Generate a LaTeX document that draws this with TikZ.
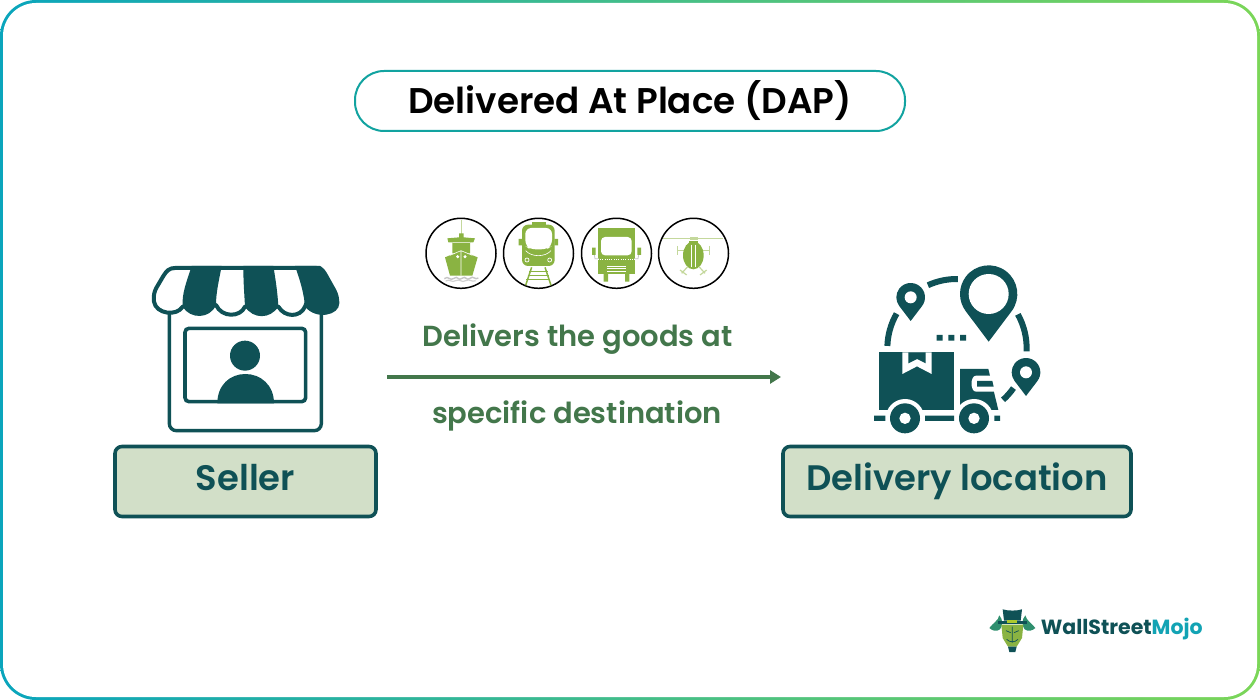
\documentclass[tikz,border=0pt]{standalone}
\usepackage{fontspec}
\setmainfont{Poppins}[BoldFont={Poppins SemiBold}]
\newfontfamily\logofont{Poppins}[UprightFont={* Bold}]
\usetikzlibrary{arrows.meta}
\definecolor{dk}{HTML}{0F5156}
\definecolor{gr}{HTML}{43774B}
\definecolor{bx}{HTML}{D2DFC8}
\definecolor{ic}{HTML}{8AB342}
\definecolor{icl}{HTML}{C4D89C}
\definecolor{tl}{HTML}{12A3A0}
\definecolor{tb}{HTML}{12A3B4}
\definecolor{hn}{HTML}{2F8F6E}
\definecolor{edgeL}{HTML}{0AA5BC}
\definecolor{edgeM}{HTML}{3DB98C}
\definecolor{edgeR}{HTML}{7BD658}
\tikzset{
 lbl/.style={draw=dk,line width=3.6pt,fill=bx,rounded corners=7pt,minimum height=70pt,inner sep=0pt,text=dk,text height=24pt,text depth=7pt,font=\bfseries\fontsize{35.4}{40}\selectfont},
 pill/.style={draw=tl,line width=2pt,fill=white,rounded corners=29pt,minimum width=550pt,minimum height=60pt,inner sep=0pt,font=\bfseries\fontsize{35.7}{40}\selectfont},
 caption/.style={text=gr,font=\bfseries\fontsize{29}{33}\selectfont,inner sep=0pt},
 ring/.style={draw=black,line width=1.5pt,fill=white},
}
\newcommand{\pinmark}[5]{% cx cy r d inner (zoom units)
 \pgfmathsetmacro{\pa}{acos(#3/#4)}
 \pgfmathsetmacro{\ps}{90-\pa}
 \pgfmathsetmacro{\pe}{\pa-270}
 \fill[dk] (#1,#2+#4) -- ([shift={(#1,#2)}]\ps:#3) arc[start angle=\ps,end angle=\pe,radius=#3] -- cycle;
 \fill[white] (#1,#2) circle[radius=#5];
}
\begin{document}
\begin{tikzpicture}[x=1pt,y=-1pt]
\useasboundingbox (0,0) rectangle (1260,700);
% frame
\shade[left color=edgeL,middle color=edgeM,right color=edgeR,rounded corners=36pt] (0,0) rectangle (1260,700);
\fill[white,rounded corners=33pt] (3,3) rectangle (1257,697);
% title
\node[pill] (title) at (630,101) {Delivered At Place (DAP)};
% labels
\node[lbl,minimum width=261pt] (seller) at (245.5,481.5) {Seller};
\node[lbl,minimum width=348pt] (place) at (957,481.5) {Delivery location};
% arrow and captions
\coordinate (from) at (387,377);
\coordinate (to) at (781,377);
\draw[gr,line width=3.4pt,-{Triangle[length=11pt,width=13pt]}] (from) -- (to);
\node[caption] (cap1) at (577.5,339) {Delivers the goods at};
\node[caption] (cap2) at (577,416) {specific destination};
% shop icon
\begin{scope}[xshift=130pt,yshift=-250pt,x=.33333pt,y=-.33333pt]
 \draw[dk,line width=3.4pt,rounded corners=7pt] (118,190) -- (118,542) -- (574,542) -- (574,190);
 \draw[dk,line width=3.6pt,rounded corners=4pt] (165,235) rectangle (527,455);
 \fill[dk] (345,317) circle[radius=45];
 \fill[dk] (262,460) .. controls (262,405) and (300,372) .. (346,372) .. controls (392,372) and (432,405) .. (432,460) -- cycle;
 % awning
 \draw[dk,line width=4pt,fill=white,line join=round] (185,54) -- (135,54) .. controls (118,54) and (110,62) .. (100,78) -- (80,112) .. controls (72,125) and (70,140) .. (72,155) .. controls (78,192) and (140,200) .. (158,170) -- (258,165) .. controls (275,203) and (330,203) .. (345,170) -- (445,170) .. controls (465,203) and (510,203) .. (525,170) -- (570,54) -- cycle;
 \fill[dk] (185,48) -- (275,48) .. controls (265,100) and (258,130) .. (258,165) .. controls (240,208) and (180,208) .. (158,170) .. controls (155,130) and (170,95) .. (185,48) -- cycle;
 \fill[dk] (340,48) -- (430,48) .. controls (437,90) and (443,130) .. (445,170) .. controls (420,208) and (370,208) .. (345,170) .. controls (343,130) and (340,100) .. (340,48) -- cycle;
 \fill[dk] (495,48) -- (560,48) .. controls (575,48) and (582,55) .. (590,68) -- (618,118) .. controls (626,132) and (628,148) .. (628,160) .. controls (628,195) and (560,212) .. (525,170) .. controls (522,130) and (510,90) .. (495,48) -- cycle;
\end{scope}
% transport icons
\draw[ring] (461,253.3) circle[radius=35];
\draw[ring] (538.5,253.3) circle[radius=35];
\draw[ring] (616.5,253.3) circle[radius=35];
\draw[ring] (693.5,253.3) circle[radius=35];
\begin{scope}[xshift=415pt,yshift=-210pt,x=.33333pt,y=-.33333pt]
 % ship
 \draw[icl,line width=.8pt] (138,30) -- (138,72);
 \fill[ic] (132,70) -- (146,70) -- (146,82) -- (180,85) -- (175,97) -- (165,97) -- (165,130) -- (112,130) -- (112,97) -- (100,97) -- (97,85) -- (132,82) -- cycle;
 \fill[ic] (90,142) -- (138,122) -- (188,142) -- (172,197) -- (105,197) -- cycle;
 \draw[white,line width=.6pt] (105,136) -- (138,122) -- (172,136) (138,122) -- (138,197) (112,97) -- (165,97);
 \fill[white] (128,140) circle[radius=5] (150,140) circle[radius=5];
 \draw[gray!45,line width=1.4pt] (88,206) .. controls (100,195) and (105,215) .. (117,205) .. controls (128,195) and (130,215) .. (141,205) .. controls (152,195) and (155,215) .. (165,205) .. controls (175,195) and (180,212) .. (190,204);
 \draw[gray!35,line width=1.2pt] (92,213) .. controls (105,205) and (110,220) .. (122,212) .. controls (135,205) and (140,220) .. (152,212) .. controls (165,205) and (170,218) .. (182,212);
 % train
 \fill[ic] (350,36) rectangle (392,48);
 \fill[ic,rounded corners=6pt] (321,44) rectangle (419,168);
 \fill[ic] (311,87) rectangle (322,106) (418,87) rectangle (429,106);
 \fill[white,rounded corners=6pt] (331,54) -- (411,54) -- (411,108) -- (395,118) -- (345,118) -- (331,108) -- cycle;
 \draw[white,line width=.6pt] (332,122) .. controls (350,142) and (390,142) .. (408,122);
 \draw[white,line width=.7pt] (336,150) circle[radius=6] (404,150) circle[radius=6];
 \draw[ic,line width=1.5pt] (350,172) -- (332,226) (390,172) -- (408,226);
 \draw[ic,line width=1.1pt] (342,184) -- (398,184) (338,196) -- (402,196) (334,208) -- (406,208);
 % truck
 \fill[ic] (548,54) rectangle (660,192);
 \fill[ic] (566,190) rectangle (579,215) (630,190) rectangle (643,215);
 \fill[white,rounded corners=4pt] (558,81) rectangle (650,136);
 \draw[white,line width=.3pt,dotted] (548,148) -- (660,148);
 \draw[white,line width=.6pt] (576,169) -- (632,169) (576,176) -- (632,176) (576,183) -- (632,183);
 \fill[ic] (531,113) rectangle (542,135) (667,113) rectangle (678,135);
 \draw[gray!45,line width=.8pt] (538,135) -- (540,146) -- (552,146) (671,135) -- (669,146) -- (657,146);
 % helicopter
 \draw[icl,line width=.9pt] (745,85) -- (925,85);
 \fill[icl] (825,81) rectangle (848,89);
 \draw[icl,line width=.9pt] (787,122) -- (883,122) (787,108) -- (787,136) (883,108) -- (883,136);
 \fill[ic] (835,136) ellipse[x radius=31,y radius=42];
 \fill[ic] (822,92) rectangle (848,104);
 \draw[white,line width=.5pt] (830,104) -- (830,170) (840,104) -- (840,170);
 \draw[icl,line width=1.2pt] (818,170) -- (800,190) (852,170) -- (870,190) (795,180) -- (815,195) (875,180) -- (855,195);
\end{scope}
% delivery icon
\begin{scope}[xshift=860pt,yshift=-255pt,x=.33333pt,y=-.33333pt]
 \pinmark{386}{117}{86}{143}{60}
 \pinmark{152}{127}{43}{71}{18}
 \pinmark{498}{352}{43}{71}{18}
 \begin{scope}[dk,line width=6pt]
  \draw ([shift={(290,280)}]-178:208) arc[start angle=-178,end angle=-150,radius=208];
  \draw ([shift={(290,280)}]-114.5:208) arc[start angle=-114.5,end angle=-89,radius=208];
  \draw ([shift={(290,280)}]-29:210) arc[start angle=-29,end angle=2.5,radius=210];
  \draw ([shift={(290,280)}]35:208) arc[start angle=35,end angle=48,radius=208];
 \end{scope}
 \fill[dk] (230,240) rectangle (248,257) (265,240) rectangle (283,257) (300,240) rectangle (318,257);
 % box
 \fill[dk] (57,292) rectangle (282,465);
 \fill[white] (127,292) -- (127,357) -- (171,334) -- (215,357) -- (215,292) -- cycle;
 \fill[dk] (145,292) -- (145,325) -- (171,312) -- (197,325) -- (197,292) -- cycle;
 % cab
 \fill[dk] (300,342) -- (385,342) -- (415,465) -- (300,465) -- cycle;
 \fill[white] (396,362) -- (348,362) .. controls (330,362) and (330,410) .. (348,410) -- (408,410) -- cycle;
 \fill[dk] (351,378) -- (397,378) -- (401,395) -- (351,395) -- cycle;
 % wheels and ground
 \fill[white] (135,490) circle[radius=58] (342,490) circle[radius=58];
 \fill[dk] (42,482) rectangle (76,498) (195,482) rectangle (282,498) (403,482) rectangle (420,498);
 \fill[dk] (135,490) circle[radius=45] (342,490) circle[radius=45];
 \fill[white] (135,490) circle[radius=17] (342,490) circle[radius=17];
\end{scope}
% logo
\begin{scope}[xshift=980pt,yshift=-600pt,x=.33333pt,y=-.33333pt]
 \fill[dk] (68,28) .. controls (85,33) and (110,33) .. (126,28) -- (122,62) -- (72,62) -- cycle;
 \fill[hn] (28,84) .. controls (38,70) and (55,62) .. (58,46) .. controls (70,60) and (68,78) .. (60,88) .. controls (50,96) and (36,92) .. (28,84) -- cycle;
 \fill[hn] (166,84) .. controls (156,70) and (139,62) .. (136,46) .. controls (124,60) and (126,78) .. (134,88) .. controls (144,96) and (158,92) .. (166,84) -- cycle;
 \fill[ic] (64,74) -- (130,74) -- (126,114) -- (110,140) -- (84,140) -- (68,114) -- cycle;
 \fill[dk] (54,62) rectangle (140,72);
 \fill[ic!70!yellow] (82,60) rectangle (112,70);
 \fill[dk] (84,140) -- (110,140) -- (106,156) -- (88,156) -- cycle;
 \draw[dk,line width=.7pt] (78,92) -- (92,98) (116,92) -- (102,98) (97,80) -- (97,128) (80,118) .. controls (90,128) and (104,128) .. (114,118);
 \node[anchor=west,inner sep=0pt,font=\logofont\fontsize{20.5}{23}\selectfont] (logo) at (182,88) {\textcolor{dk}{WallStreet}\textcolor{tb}{Mojo}};
\end{scope}
\end{tikzpicture}
\end{document}
